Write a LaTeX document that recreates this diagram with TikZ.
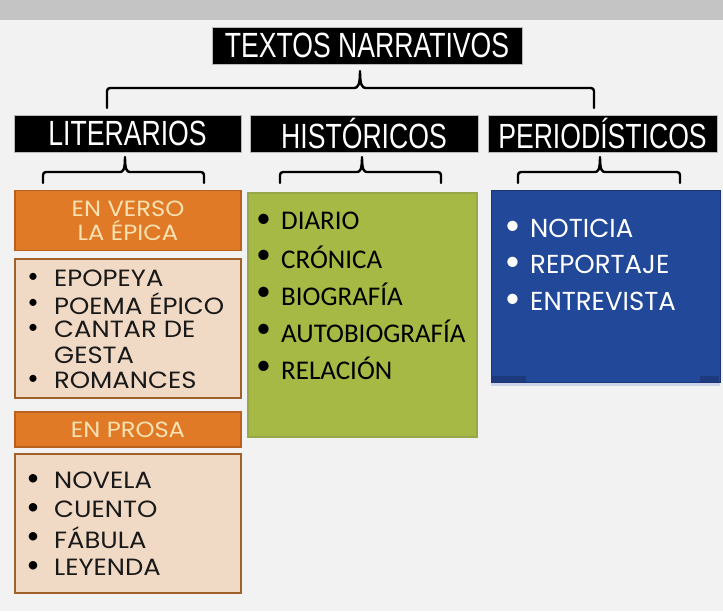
\documentclass[tikz,border=0pt]{standalone}
\usepackage{fontspec}
\setmainfont{Liberation Sans}
\newfontfamily\headfont[FakeStretch=0.76]{Liberation Sans}
\newfontfamily\gothfont[FakeStretch=1.1]{Poppins}
\newfontfamily\gothfontb{Poppins}
\newfontfamily\calfont{Carlito}
\definecolor{bgc}{HTML}{F2F2F2}
\definecolor{bandc}{HTML}{C4C4C4}
\definecolor{orng}{HTML}{E07A26}
\definecolor{orngd}{HTML}{B9621F}
\definecolor{peach}{HTML}{F1DAC5}
\definecolor{peachd}{HTML}{A0602A}
\definecolor{creamt}{HTML}{F8E2B2}
\definecolor{grn}{HTML}{A5B944}
\definecolor{grnd}{HTML}{97A74A}
\definecolor{blu}{HTML}{22489A}
\definecolor{blud}{HTML}{1B3673}
\definecolor{bluel}{HTML}{B3C2E2}
\tikzset{
  hbox/.style={fill=black, draw=gray!55, line width=0.8pt, text=white, inner sep=0pt,
    minimum height=37pt, font=\headfont\fontsize{35}{35}\selectfont},
  brc/.style={line width=2.4pt, line cap=round, line join=round},
  obox/.style={fill=orng, draw=orngd, line width=1.2pt, text=creamt, inner sep=0pt,
    minimum width=226pt, font=\gothfont\fontsize{22}{24}\selectfont, align=center},
  pbox/.style={fill=peach, draw=peachd, line width=1.6pt, minimum width=226pt, inner sep=0pt},
  litem/.style={anchor=west, inner sep=0pt, text=black!90, font=\gothfont\fontsize{23.5}{23.5}\selectfont},
  bul/.style={anchor=center, inner sep=0pt, text=black, font=\calfont\fontsize{20}{20}\selectfont},
  gitem/.style={anchor=west, inner sep=0pt, text=black, font=\calfont\fontsize{27}{27}\selectfont},
  bitem/.style={anchor=west, inner sep=0pt, text=white, font=\gothfontb\fontsize{26}{26}\selectfont},
}
\begin{document}
\begin{tikzpicture}[x=1pt,y=-1pt]
\useasboundingbox (0,0) rectangle (723,611);
\fill[bgc] (0,0) rectangle (723,611);
\fill[bandc] (0,0) rectangle (723,20);

% headers
\node[hbox, minimum width=310pt] (title) at (367,45.5) {TEXTOS NARRATIVOS};
\node[hbox, minimum width=227pt] (lit) at (127.5,133.5) {LITERARIOS};
\node[hbox, minimum width=228pt] (his) at (364,133.5) {HISTÓRICOS};
\node[hbox, minimum width=229pt] (per) at (602.5,133.5) {PERIODÍSTICOS};

% top brace
\draw[brc] (107,108) [rounded corners=3pt]-- (107,88) [sharp corners]-- (354,88)
  .. controls (358,88) and (360,85) .. (360,71)
  .. controls (360,85) and (362,88) .. (366,88)
  [rounded corners=3pt]-- (594,88) -- (594,108);

% sub braces
\foreach \xl/\xm/\xr in {43/125/204, 280/362/441, 518/600/680}{
  \draw[brc] (\xl,183) [rounded corners=3pt]-- (\xl,172) [sharp corners]-- (\xm-5,172)
    .. controls (\xm-2,172) and (\xm,170) .. (\xm,157)
    .. controls (\xm,170) and (\xm+2,172) .. (\xm+5,172)
    [rounded corners=3pt]-- (\xr,172) -- (\xr,183);
}

% literarios column
\node[obox, minimum height=60pt] (verso) at (128,220.5) {EN VERSO\\[0pt]LA ÉPICA};
\node[pbox, minimum height=139pt] (vlist) at (128,328.5) {};
\foreach \y/\t/\b [count=\i] in {278/EPOPEYA/1, 304/POEMA ÉPICO/1, 329/CANTAR DE/1, 355/GESTA/0, 380/ROMANCES/1}{
  \ifnum\b=1 \node[bul] (vb\i) at (33,\y) {•};\fi
  \node[litem] (vi\i) at (54,\y) {\t};
}
\node[obox, minimum height=35pt] (prosa) at (128,429.5) {EN PROSA};
\node[pbox, minimum height=139pt] (plist) at (128,523.5) {};
\foreach \y/\t [count=\i] in {480/NOVELA, 509/CUENTO, 538/FÁBULA, 567/LEYENDA}{
  \node[bul, font=\calfont\fontsize{24}{24}\selectfont] (pb\i) at (33,\y) {•};
  \node[litem] (pi\i) at (54,\y) {\t};
}

% historicos column
\node[fill=grn, draw=grnd, line width=1.5pt, minimum width=229pt, minimum height=244pt, inner sep=0pt] (hist) at (362.5,315) {};
\foreach \y/\t [count=\i] in {221/DIARIO, 257/CRÓNICA, 294/BIOGRAFÍA, 331/AUTOBIOGRAFÍA, 368/RELACIÓN}{
  \node[bul, font=\calfont\fontsize{29}{29}\selectfont] (hb\i) at (263.5,\y) {•};
  \node[gitem] (hi\i) at (281,\y) {\t};
}

% periodisticos column
\fill[bluel!70] (491,382) rectangle (720,386);
\node[fill=blu, draw=blud, line width=1pt, minimum width=229pt, minimum height=192pt, inner sep=0pt] (peri) at (605.5,286) {};
\fill[blud!75!blu] (492,376) rectangle (526,382);
\fill[blud!75!blu] (700,376) rectangle (719,382);
\foreach \y/\t [count=\i] in {228/NOTICIA, 264/REPORTAJE, 301/ENTREVISTA}{
  \node[bul, text=white, font=\calfont\fontsize{29}{29}\selectfont] (bb\i) at (512.5,\y) {•};
  \node[bitem] (bi\i) at (530,\y) {\t};
}
\end{tikzpicture}
\end{document}
